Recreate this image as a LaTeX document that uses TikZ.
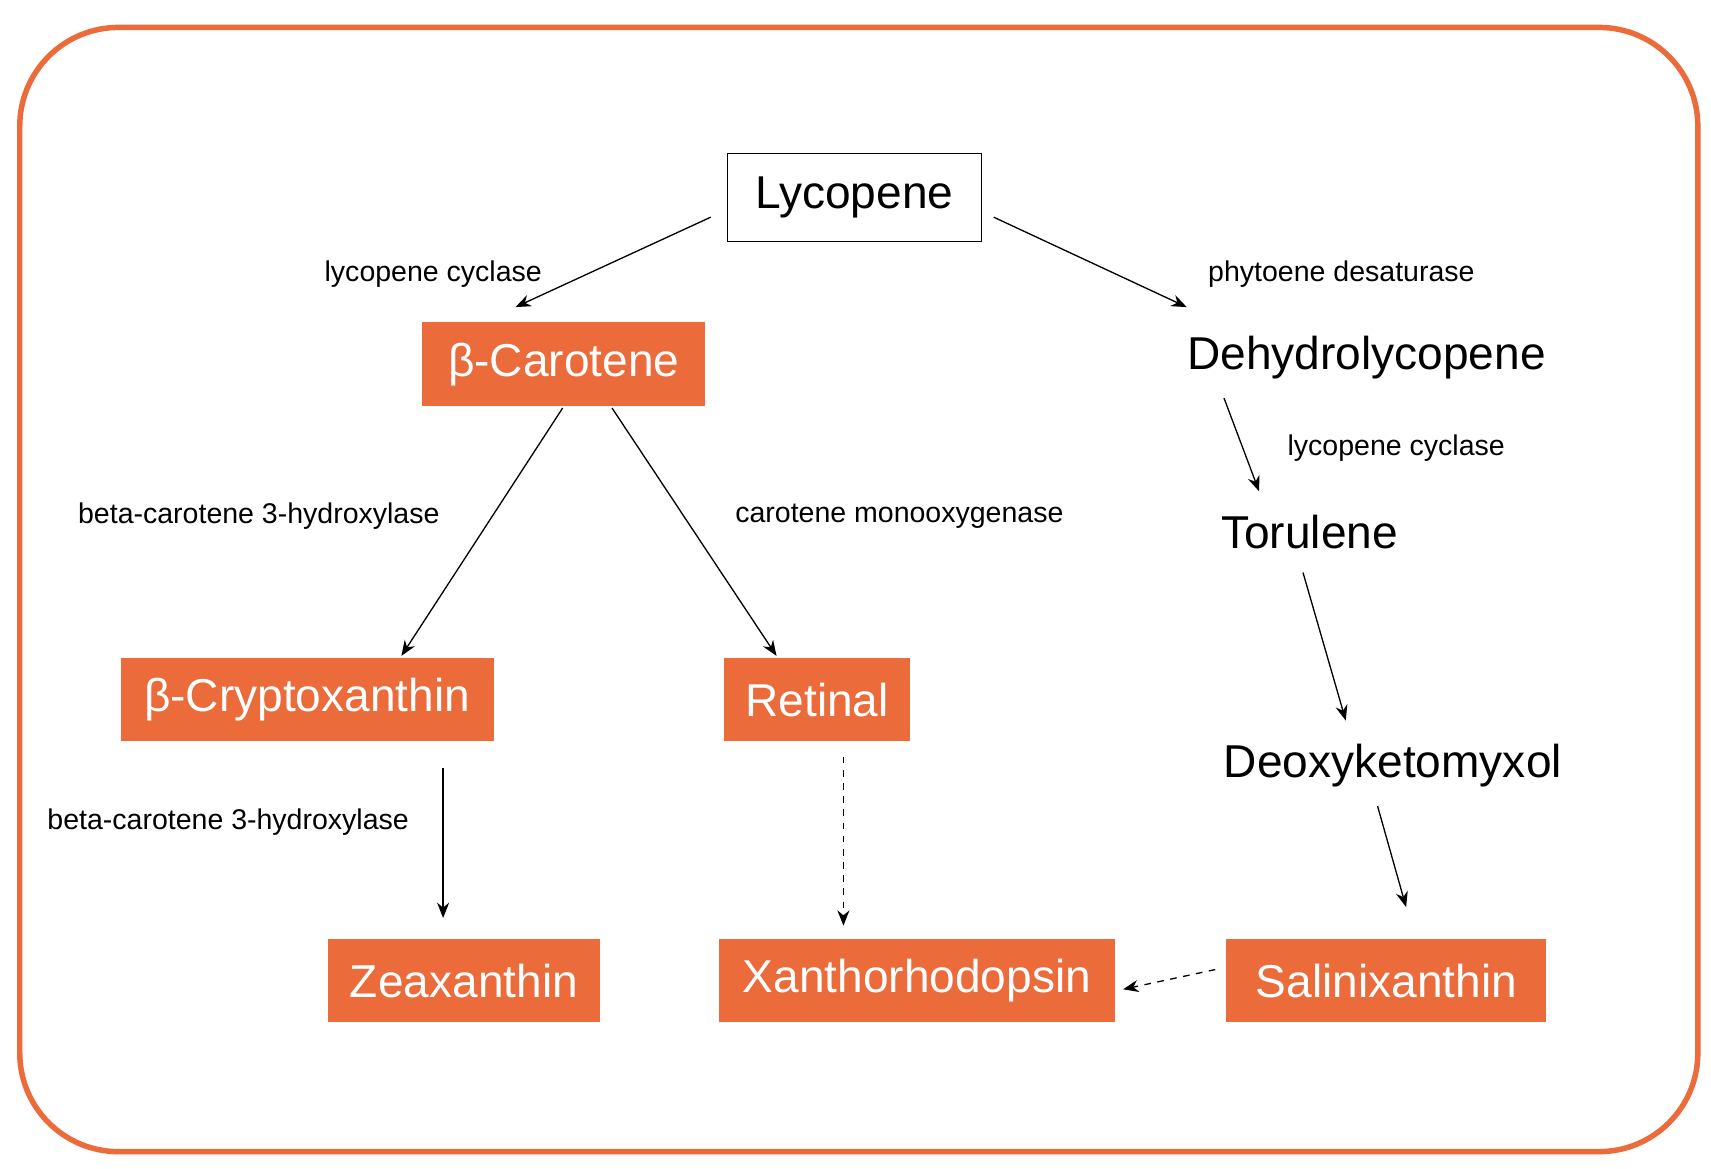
\documentclass[tikz,border=0pt]{standalone}
\usepackage{fontspec}
\setmainfont{Liberation Sans}
\usetikzlibrary{arrows.meta}
\definecolor{org}{HTML}{EB6B3A}
\begin{document}
\begin{tikzpicture}[x=0.5pt,y=-0.5pt,
  ob/.style={fill=org,text=white,font=\fontsize{21}{24}\selectfont,inner sep=0pt},
  pl/.style={font=\fontsize{21}{24}\selectfont,inner sep=0pt},
  en/.style={font=\fontsize{13}{15}\selectfont,inner sep=0pt},
  ar/.style={-{Stealth[length=7pt,width=5.5pt]},line width=0.6pt}]
\useasboundingbox (0,0) rectangle (1560,1065);
\draw[org,line width=2.5pt,rounded corners=45pt] (18,25) rectangle (1548,1050);
\node[draw,line width=0.6pt,minimum width=116pt,minimum height=40pt,pl] (lyc) at (779,180) {Lycopene};
\node[ob,minimum width=129pt,minimum height=38.5pt] (bc) at (514,332) {β-Carotene};
\node[ob,minimum width=170pt,minimum height=38pt] (cry) at (280,638) {β-Cryptoxanthin};
\node[ob,minimum width=84.5pt,minimum height=38pt] (ret) at (745,638) {Retinal};
\node[ob,minimum width=124pt,minimum height=38pt] (zea) at (423,894) {Zeaxanthin};
\node[ob,minimum width=180.5pt,minimum height=38pt] (xan) at (836,894) {Xanthorhodopsin};
\node[ob,minimum width=146pt,minimum height=38pt] (sal) at (1264,894) {Salinixanthin};
\node[pl] (deh) at (1246,326) {Dehydrolycopene};
\node[pl] (tor) at (1194,485) {Torulene};
\node[pl] (deo) at (1270,698) {Deoxyketomyxol};
\node[en] at (395,250) {lycopene cyclase};
\node[en] at (1223,250) {phytoene desaturase};
\node[en] at (236,471) {beta-carotene 3-hydroxylase};
\node[en] at (820,471) {carotene monooxygenase};
\node[en] at (1273,409) {lycopene cyclase};
\node[en] at (208,750) {beta-carotene 3-hydroxylase};
\coordinate (a1) at (648,198); \coordinate (b1) at (470,280);
\coordinate (a2) at (906,198); \coordinate (b2) at (1082,280);
\coordinate (a3) at (513,372); \coordinate (b3) at (366,598);
\coordinate (a4) at (558,372); \coordinate (b4) at (708,598);
\coordinate (a5) at (1116,363); \coordinate (b5) at (1148,448);
\coordinate (a6) at (1188,522); \coordinate (b6) at (1227,657);
\coordinate (a7) at (1256,735); \coordinate (b7) at (1282,827);
\coordinate (a8) at (404,700); \coordinate (b8) at (404,837);
\coordinate (a9) at (769,690); \coordinate (b9) at (769,844);
\coordinate (a10) at (1108,884); \coordinate (b10) at (1024,902);
\draw[ar] (a1) -- (b1);
\draw[ar] (a2) -- (b2);
\draw[ar] (a3) -- (b3);
\draw[ar] (a4) -- (b4);
\draw[ar] (a5) -- (b5);
\draw[ar] (a6) -- (b6);
\draw[ar] (a7) -- (b7);
\draw[ar] (a8) -- (b8);
\draw[ar,dashed] (a9) -- (b9);
\draw[ar,dashed] (a10) -- (b10);
\end{tikzpicture}
\end{document}
